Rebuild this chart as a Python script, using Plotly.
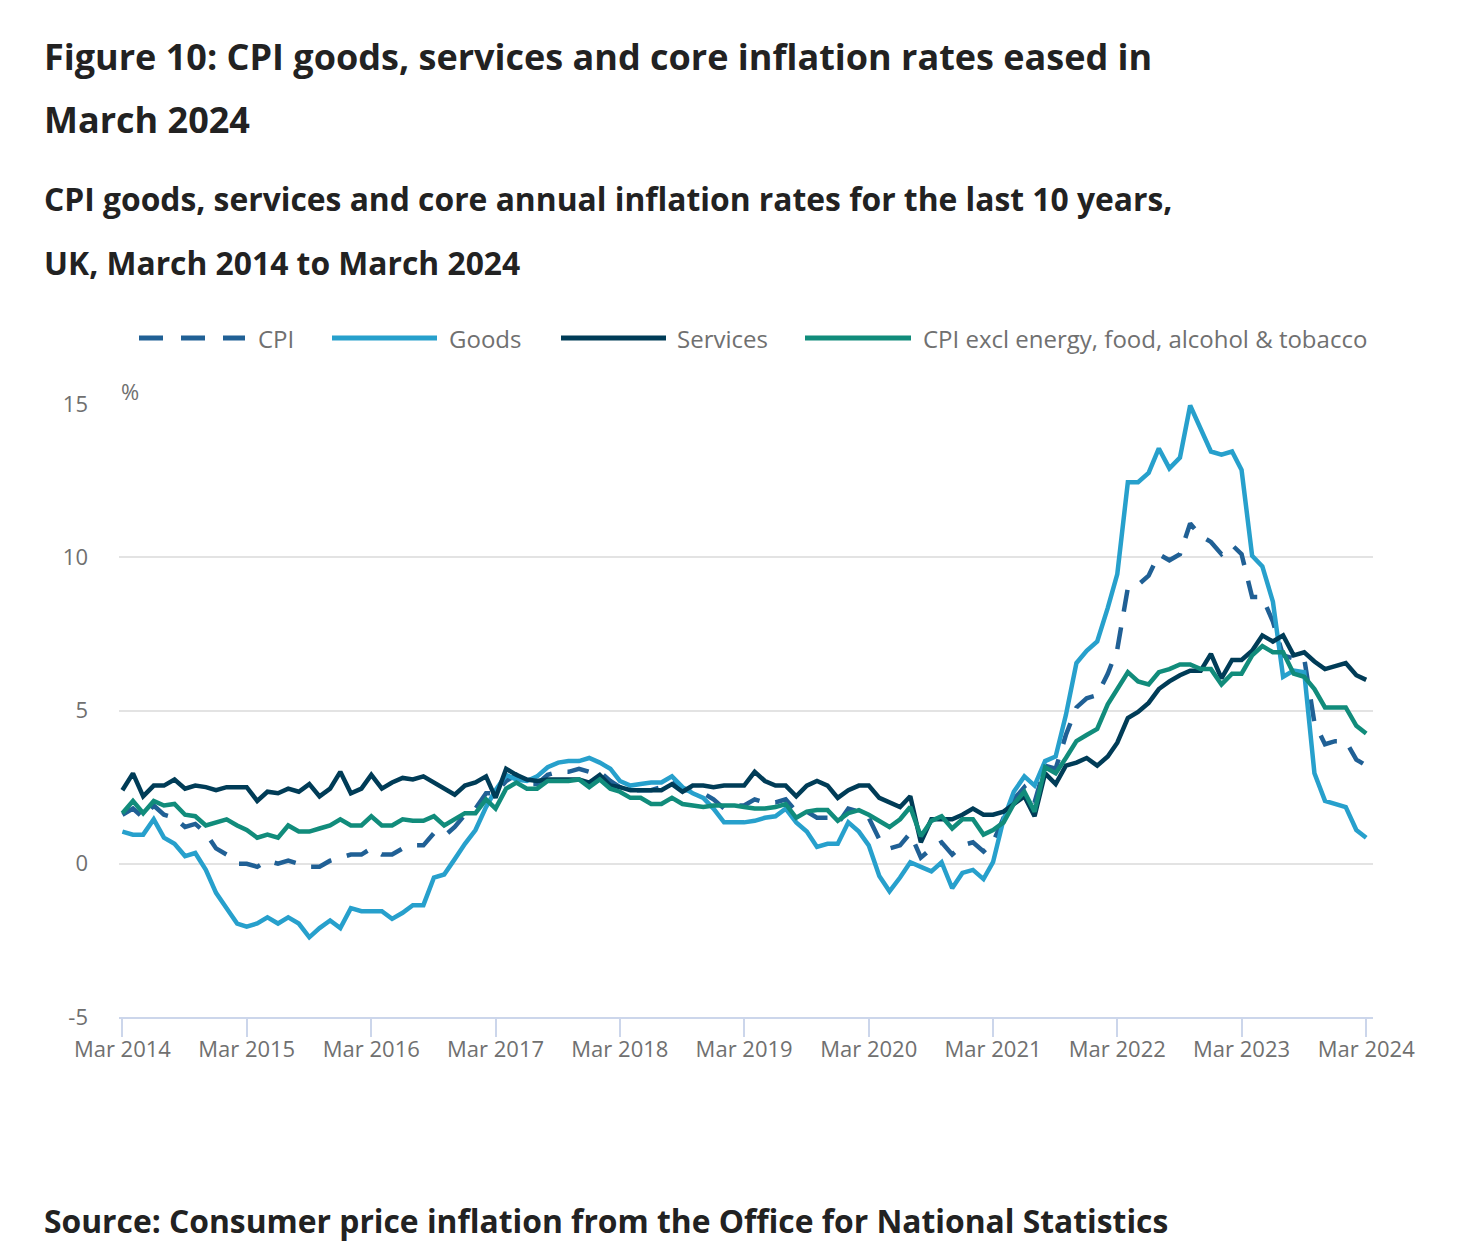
import pandas as pd
import plotly.graph_objects as go

# ---- Data (annual % rates, Mar 2014 .. Mar 2024, monthly) ----
months = pd.date_range("2014-03-01", "2024-03-01", freq="MS")

cpi = [1.6, 1.8, 1.5, 1.9, 1.6, 1.5, 1.2, 1.3, 1.0, 0.5,
       0.3, 0.0, 0.0, -0.1, 0.1, 0.0, 0.1, 0.0, -0.1, -0.1, 0.1, 0.2,
       0.3, 0.3, 0.5, 0.3, 0.3, 0.5, 0.6, 0.6, 1.0, 0.9, 1.2, 1.6,
       1.8, 2.3, 2.3, 2.7, 2.9, 2.6, 2.6, 2.9, 3.0, 3.0, 3.1, 3.0,
       3.0, 2.7, 2.5, 2.4, 2.4, 2.4, 2.5, 2.7, 2.4, 2.4, 2.3, 2.1,
       1.8, 1.9, 1.9, 2.1, 2.0, 2.0, 2.1, 1.7, 1.7, 1.5, 1.5, 1.3,
       1.8, 1.7, 1.5, 0.8, 0.5, 0.6, 1.0, 0.2, 0.5, 0.7, 0.3, 0.6,
       0.7, 0.4, 0.7, 1.5, 2.1, 2.5, 2.0, 3.2, 3.1, 4.2, 5.1, 5.4,
       5.5, 6.2, 7.0, 9.0, 9.1, 9.4, 10.1, 9.9, 10.1, 11.1, 10.7, 10.5,
       10.1, 10.4, 10.1, 8.7, 8.7, 7.9, 6.8, 6.7, 6.7, 4.6, 3.9, 4.0,
       4.0, 3.4, 3.2]

goods = [1.05, 0.95, 0.95, 1.45, 0.85, 0.65, 0.25, 0.35, -0.2, -0.95,
         -1.45, -1.95, -2.05, -1.95, -1.75, -1.95, -1.75, -1.95, -2.4, -2.1, -1.85, -2.1,
         -1.45, -1.55, -1.55, -1.55, -1.8, -1.6, -1.35, -1.35, -0.45, -0.35, 0.15, 0.65,
         1.1, 1.85, 2.4, 2.9, 2.75, 2.7, 2.85, 3.15, 3.3, 3.35, 3.35, 3.45,
         3.3, 3.1, 2.7, 2.55, 2.6, 2.65, 2.65, 2.85, 2.5, 2.3, 2.15, 1.8,
         1.35, 1.35, 1.35, 1.4, 1.5, 1.55, 1.8, 1.35, 1.05, 0.55, 0.65, 0.65,
         1.35, 1.05, 0.6, -0.4, -0.9, -0.45, 0.05, -0.1, -0.25, 0.05, -0.8, -0.3,
         -0.2, -0.5, 0.05, 1.45, 2.35, 2.85, 2.55, 3.35, 3.5, 4.85, 6.55, 6.95,
         7.25, 8.35, 9.45, 12.45, 12.45, 12.75, 13.55, 12.9, 13.25, 14.95, 14.15, 13.45,
         13.35, 13.45, 12.85, 10.05, 9.7, 8.55, 6.1, 6.3, 6.25, 2.95, 2.05, 1.95,
         1.85, 1.1, 0.85]

services = [2.4, 2.95, 2.2, 2.55, 2.55, 2.75, 2.45, 2.55, 2.5, 2.4,
            2.5, 2.5, 2.5, 2.05, 2.35, 2.3, 2.45, 2.35, 2.6, 2.2, 2.45, 3.0,
            2.3, 2.45, 2.9, 2.45, 2.65, 2.8, 2.75, 2.85, 2.65, 2.45, 2.25, 2.55,
            2.65, 2.85, 2.15, 3.1, 2.9, 2.75, 2.7, 2.75, 2.75, 2.75, 2.75, 2.65,
            2.9, 2.55, 2.5, 2.4, 2.4, 2.4, 2.4, 2.6, 2.35, 2.55, 2.55, 2.5,
            2.55, 2.55, 2.55, 3.0, 2.7, 2.55, 2.55, 2.2, 2.55, 2.7, 2.55, 2.15,
            2.4, 2.55, 2.55, 2.15, 2.0, 1.85, 2.2, 0.7, 1.45, 1.45, 1.45, 1.6,
            1.8, 1.6, 1.6, 1.7, 1.95, 2.2, 1.55, 2.95, 2.6, 3.2, 3.3, 3.45,
            3.2, 3.5, 3.95, 4.75, 4.95, 5.25, 5.7, 5.95, 6.15, 6.3, 6.3, 6.85,
            6.05, 6.65, 6.65, 6.95, 7.45, 7.25, 7.45, 6.8, 6.9, 6.6, 6.35, 6.45,
            6.55, 6.15, 6.0]

core = [1.65, 2.05, 1.65, 2.05, 1.9, 1.95, 1.6, 1.55, 1.25, 1.35,
        1.45, 1.25, 1.1, 0.85, 0.95, 0.85, 1.25, 1.05, 1.05, 1.15, 1.25, 1.45,
        1.25, 1.25, 1.55, 1.25, 1.25, 1.45, 1.4, 1.4, 1.55, 1.25, 1.45, 1.65,
        1.65, 2.1, 1.8, 2.45, 2.65, 2.45, 2.45, 2.7, 2.7, 2.7, 2.75, 2.5,
        2.75, 2.45, 2.35, 2.15, 2.15, 1.95, 1.95, 2.15, 1.95, 1.9, 1.85, 1.9,
        1.9, 1.9, 1.85, 1.8, 1.8, 1.85, 1.95, 1.5, 1.7, 1.75, 1.75, 1.4,
        1.65, 1.75, 1.6, 1.4, 1.2, 1.45, 1.85, 0.9, 1.4, 1.55, 1.15, 1.45,
        1.45, 0.95, 1.1, 1.35, 1.95, 2.35, 1.7, 3.15, 2.95, 3.45, 4.0, 4.2,
        4.4, 5.2, 5.7, 6.25, 5.95, 5.85, 6.25, 6.35, 6.5, 6.5, 6.35, 6.35,
        5.85, 6.2, 6.2, 6.8, 7.1, 6.9, 6.9, 6.2, 6.1, 5.7, 5.1, 5.1,
        5.1, 4.5, 4.25]

series_names = ["CPI", "Goods", "Services", "CPI excl energy, food, alcohol & tobacco"]
series_colors = ["#206095", "#27a0cc", "#003c57", "#118c7b"]
series_dash = ["22px,16px", "solid", "solid", "solid"]

y_tickvals = [-5, 0, 5, 10, 15]
y_ticktext = ["-5", "0", "5", "10", "15"]

title_lines = ["Figure 10: CPI goods, services and core inflation rates eased in",
               "March 2024"]
subtitle_lines = ["CPI goods, services and core annual inflation rates for the last 10 years,",
                  "UK, March 2014 to March 2024"]
source_text = "Source: Consumer price inflation from the Office for National Statistics"

# ---- Figure geometry (pixels) ----
W, H = 1460, 1256
PL, PR, PT, PB = 119, 1373, 404, 1017   # plot box in px


def px_x(px):
    return (px - PL) / (PR - PL)


def px_y(py):
    return (PB - py) / (PB - PT)


fig = go.Figure()
for vals, name, col, dash in zip([cpi, goods, services, core], series_names, series_colors, series_dash):
    fig.add_trace(go.Scatter(x=months, y=vals, name=name, mode="lines",
                             line=dict(color=col, width=4.5, dash=dash),
                             showlegend=False))

FONT = "Open Sans"
annotations = []
for txt, py, size in [(title_lines[0], 56, 36), (title_lines[1], 119, 36),
                      (subtitle_lines[0], 199, 31.8), (subtitle_lines[1], 262, 31.8),
                      (source_text, 1220, 31.8)]:
    annotations.append(dict(text=txt, x=px_x(42), y=px_y(py), xref="paper", yref="paper",
                            xanchor="left", yanchor="middle", showarrow=False,
                            font=dict(family=FONT, size=size, color="#222222", weight=700)))

# "%" unit label
annotations.append(dict(text="%", x=px_x(119), y=px_y(391), xref="paper", yref="paper",
                        xanchor="left", yanchor="middle", showarrow=False,
                        font=dict(family=FONT, size=22, color="#707070")))

# Custom legend
legend_y = 338
legend_items = [(139, 245, 256), (332, 437, 447), (561, 666, 675), (805, 911, 921)]
shapes = []
for (x0, x1, xt), name, col, dash in zip(legend_items, series_names, series_colors,
                                        ["24px,18px", "solid", "solid", "solid"]):
    shapes.append(dict(type="line", xref="paper", yref="paper",
                       x0=px_x(x0), x1=px_x(x1), y0=px_y(legend_y), y1=px_y(legend_y),
                       line=dict(color=col, width=5, dash=dash)))
    annotations.append(dict(text=name, x=px_x(xt), y=px_y(legend_y), xref="paper", yref="paper",
                            xanchor="left", yanchor="middle", showarrow=False,
                            font=dict(family=FONT, size=24, color="#707070")))

fig.update_layout(
    width=W, height=H,
    margin=dict(l=PL, r=W - PR, t=PT, b=H - PB, pad=0),
    paper_bgcolor="white", plot_bgcolor="white",
    font=dict(family=FONT, color="#707070"),
    annotations=annotations, shapes=shapes,
    showlegend=False,
    xaxis=dict(type="date", range=["2014-02-19", "2024-03-21"],
               tick0="2014-03-01", dtick="M12", tickformat="%b %Y",
               showgrid=False, zeroline=False,
               showline=True, linecolor="#ccd6eb", linewidth=2,
               ticks="outside", ticklen=18, tickwidth=2, tickcolor="#ccd6eb",
               ticklabelstandoff=-6,
               tickfont=dict(family=FONT, size=22, color="#707070")),
    yaxis=dict(range=[-5, 15], tickvals=y_tickvals, ticktext=y_ticktext, showgrid=True,
               gridcolor="#e3e3e3", gridwidth=2, zeroline=False, showline=False,
               ticks="", ticklabelstandoff=30,
               tickfont=dict(family=FONT, size=22, color="#707070")),
)

fig.write_html("out.html")
